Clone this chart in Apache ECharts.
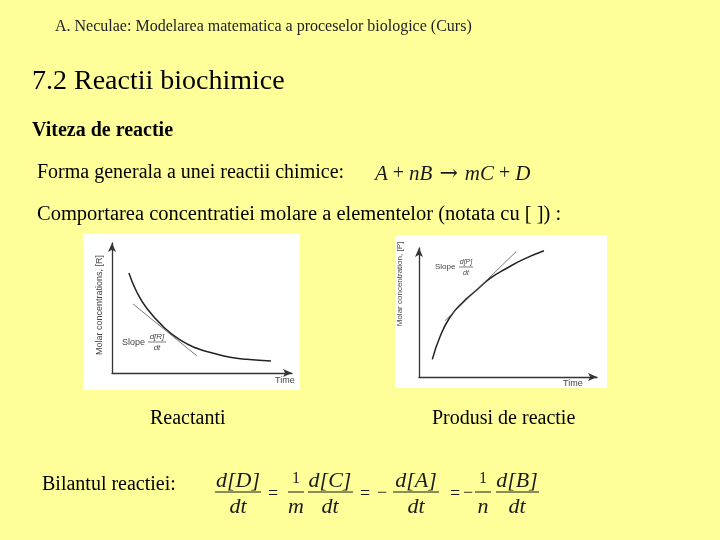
<!DOCTYPE html>
<html>
<head>
<meta charset="utf-8">
<script src="https://cdn.jsdelivr.net/npm/echarts@6/dist/echarts.min.js"></script>
<style>
html,body{margin:0;padding:0;background:#FFFF99;}
#c{width:720px;height:540px;}
</style>
</head>
<body>
<div id="c"></div>
<script>
// Reactant concentration [R] vs time (decay curve)
var reactantTime = [0.94, 1.37, 1.93, 2.85, 3.78, 4.71, 5.63, 6.56, 7.48, 8.83];
var reactantConc = [7.69, 6.25, 4.98, 3.56, 2.54, 1.90, 1.52, 1.21, 1.05, 0.92];
// tangent line on reactant curve
var reactantTanTime = [1.17, 4.72];
var reactantTanConc = [5.31, 1.31];
// Product concentration [P] vs time (growth curve)
var productTime = [0.75, 1.18, 1.74, 2.49, 3.24, 3.99, 4.93, 5.86, 7.02];
var productConc = [1.37, 3.12, 4.63, 5.84, 6.74, 7.65, 8.43, 9.12, 9.79];
// tangent line on product curve
var productTanTime = [1.46, 5.45];
var productTanConc = [4.36, 9.71];

function zip(a, b) { return a.map(function (v, i) { return [v, b[i]]; }); }

var serif = '"Liberation Serif","Times New Roman",serif';
var sans = '"Liberation Sans",Arial,sans-serif';

function txt(x, y, s, size, opt) {
  opt = opt || {};
  return {
    type: 'text', z: 100,
    style: {
      x: x, y: y, text: s,
      fontSize: size, fontFamily: opt.family || serif,
      fontStyle: opt.italic ? 'italic' : 'normal',
      fontWeight: opt.bold ? 'bold' : 'normal',
      fill: opt.color || '#000',
      align: opt.align || 'left', verticalAlign: 'middle'
    }
  };
}
function line(x1, y1, x2, y2, w, c) {
  return { type: 'line', z: 100, shape: { x1: x1, y1: y1, x2: x2, y2: y2 }, style: { stroke: c || '#222', lineWidth: w || 1 } };
}
function vtxt(x, y, s, size) {
  return {
    type: 'text', z: 100, x: x, y: y, rotation: Math.PI / 2,
    style: { x: 0, y: 0, text: s, fontSize: size, fontFamily: sans, fill: '#444', align: 'center', verticalAlign: 'middle' }
  };
}

var fs = 20;
var fi = 22;
var fcol = '#1a1a1a';
var elements = [
  { type: 'rect', z: -100, shape: { x: 83, y: 234, width: 217, height: 156 }, style: { fill: '#fff' } },
  { type: 'rect', z: -100, shape: { x: 395, y: 235, width: 212, height: 153 }, style: { fill: '#fff' } },
  txt(55, 27, 'A. Neculae: Modelarea matematica a proceselor biologice (Curs)', 16, { color: '#222' }),
  txt(32, 82, '7.2 Reactii biochimice', 28),
  txt(32, 131, 'Viteza de reactie', 20, { bold: true }),
  txt(37, 173, 'Forma generala a unei reactii chimice:', 20),
  {
    type: 'text', z: 100,
    style: {
      x: 375, y: 174, verticalAlign: 'middle', align: 'left', fill: fcol,
      text: '{i|A}{n| + }{i|nB}{a| → }{i|mC}{n| + }{i|D}',
      rich: {
        i: { fontStyle: 'italic', fontSize: 21, fontFamily: serif, fill: fcol },
        n: { fontSize: 20, fontFamily: serif, fill: fcol },
        a: { fontSize: 22, fontFamily: '"DejaVu Serif",serif', fill: fcol }
      }
    }
  },
  txt(37, 215, 'Comportarea concentratiei molare a elementelor (notata cu [ ]) :', 20.5),
  txt(150, 419, 'Reactanti', fs),
  txt(432, 419, 'Produsi de reactie', fs),
  txt(42, 485, 'Bilantul reactiei:', fs),
  // chart labels
  vtxt(100, 305, 'Molar concentrations, [R]', 9),
  txt(275, 381, 'Time', 9, { family: sans, color: '#444' }),
  txt(122, 343, 'Slope', 9, { family: sans, color: '#444' }),
  txt(157, 337, 'd[R]', 8, { family: sans, italic: true, color: '#444', align: 'center' }),
  line(148, 342, 166, 342, 0.7, '#444'),
  txt(157, 348, 'dt', 8, { family: sans, italic: true, color: '#444', align: 'center' }),
  vtxt(400, 284, 'Molar concentration, [P]', 8),
  txt(563, 384, 'Time', 9, { family: sans, color: '#444' }),
  txt(435, 267, 'Slope', 8, { family: sans, color: '#444' }),
  txt(466, 262, 'd[P]', 7, { family: sans, italic: true, color: '#444', align: 'center' }),
  line(459, 267, 473, 267, 0.7, '#444'),
  txt(466, 273, 'dt', 7, { family: sans, italic: true, color: '#444', align: 'center' }),
  // balance formula
  txt(238, 481, 'd[D]', fi, { italic: true, align: 'center', color: fcol }),
  line(215, 492, 261, 492, 1, fcol),
  txt(238, 507, 'dt', fi, { italic: true, align: 'center', color: fcol }),
  txt(273, 494, '=', 18, { align: 'center', color: fcol }),
  txt(296, 479, '1', 16, { align: 'center', color: fcol }),
  line(288, 492, 304, 492, 1, fcol),
  txt(296, 507, 'm', fi, { italic: true, align: 'center', color: fcol }),
  txt(330, 481, 'd[C]', fi, { italic: true, align: 'center', color: fcol }),
  line(308, 492, 353, 492, 1, fcol),
  txt(330, 507, 'dt', fi, { italic: true, align: 'center', color: fcol }),
  txt(365, 494, '=', 18, { align: 'center', color: fcol }),
  txt(382, 493, '−', 18, { align: 'center', color: fcol }),
  txt(416, 481, 'd[A]', fi, { italic: true, align: 'center', color: fcol }),
  line(393, 492, 439, 492, 1, fcol),
  txt(416, 507, 'dt', fi, { italic: true, align: 'center', color: fcol }),
  txt(455, 494, '=', 18, { align: 'center', color: fcol }),
  txt(468, 493, '−', 18, { align: 'center', color: fcol }),
  txt(483, 479, '1', 16, { align: 'center', color: fcol }),
  line(475, 492, 491, 492, 1, fcol),
  txt(483, 507, 'n', fi, { italic: true, align: 'center', color: fcol }),
  txt(517, 481, 'd[B]', fi, { italic: true, align: 'center', color: fcol }),
  line(496, 492, 539, 492, 1, fcol),
  txt(517, 507, 'dt', fi, { italic: true, align: 'center', color: fcol })
];

function axisCommon() {
  return {
    type: 'value', min: 0, max: 10,
    axisLine: { show: true, onZero: false, symbol: ['none', 'arrow'], symbolSize: [6, 9], lineStyle: { color: '#333', width: 1.3 } },
    axisTick: { show: false }, axisLabel: { show: false }, splitLine: { show: false }
  };
}
var xa = [axisCommon(), axisCommon()];
xa[0].gridIndex = 0; xa[1].gridIndex = 1;
var ya = [axisCommon(), axisCommon()];
ya[0].gridIndex = 0; ya[1].gridIndex = 1;

var option = {
  backgroundColor: '#FFFF99',
  animation: false,
  grid: [
    { left: 112, top: 243, width: 180, height: 130 },
    { left: 419, top: 248, width: 178, height: 129 }
  ],
  xAxis: xa,
  yAxis: ya,
  series: [
    { type: 'line', xAxisIndex: 0, yAxisIndex: 0, data: zip(reactantTime, reactantConc), smooth: true, showSymbol: false, lineStyle: { color: '#222', width: 1.5 } },
    { type: 'line', xAxisIndex: 0, yAxisIndex: 0, data: zip(reactantTanTime, reactantTanConc), showSymbol: false, lineStyle: { color: '#555', width: 0.8 } },
    { type: 'line', xAxisIndex: 1, yAxisIndex: 1, data: zip(productTime, productConc), smooth: true, showSymbol: false, lineStyle: { color: '#222', width: 1.5 } },
    { type: 'line', xAxisIndex: 1, yAxisIndex: 1, data: zip(productTanTime, productTanConc), showSymbol: false, lineStyle: { color: '#555', width: 0.8 } }
  ],
  graphic: { elements: elements }
};
var chart = echarts.init(document.getElementById('c'), null, { renderer: 'canvas' });
chart.setOption(option);
</script>
</body>
</html>
